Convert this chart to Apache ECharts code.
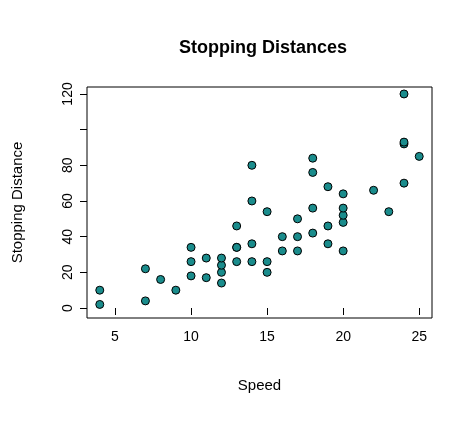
<!DOCTYPE html>
<html><head><meta charset="utf-8">
<script src="https://cdn.jsdelivr.net/npm/echarts@6/dist/echarts.min.js"></script>
<style>html,body{margin:0;padding:0;background:#fff}#c{width:474px;height:421px}</style>
</head><body><div id="c"></div>
<script>
const speed=[4,4,7,7,8,9,10,10,10,11,11,12,12,12,12,13,13,13,13,14,14,14,14,15,15,15,16,16,17,17,17,18,18,18,18,19,19,19,20,20,20,20,20,22,23,24,24,24,24,25];
const dist=[2,10,4,22,16,10,18,26,34,17,28,14,20,24,28,26,34,34,46,26,36,60,80,20,26,54,32,40,32,40,50,42,56,76,84,36,46,68,32,48,52,56,64,66,54,70,92,93,120,85];
const xTicks=[5,10,15,20,25];
const yTicks=[0,20,40,60,80,100,120];
const yLabels=[0,20,40,60,80,120];
const data=speed.map((s,i)=>[s,dist[i]]);
const ch=echarts.init(document.getElementById('c'));
const font='Liberation Sans, Arial, sans-serif';
ch.setOption({
  animation:false,
  title:{text:'Stopping Distances',left:258,top:34,textAlign:'center',textStyle:{fontSize:18,fontWeight:'bold',color:'#000',fontFamily:font}},
  grid:{left:87,right:42,top:87,bottom:103,show:true,borderColor:'#000',borderWidth:1,backgroundColor:'transparent'},
  xAxis:{type:'value',min:3.16,max:25.84,splitLine:{show:false},axisLine:{show:false},
    axisTick:{show:true,length:7,customValues:xTicks,lineStyle:{color:'#000'}},
    axisLabel:{customValues:xTicks,color:'#000',fontSize:14,margin:12,fontFamily:font},
    name:'Speed',nameLocation:'middle',nameGap:60,nameTextStyle:{fontSize:15,color:'#000',fontFamily:font}},
  yAxis:{type:'value',min:-5.6,max:123.9,splitLine:{show:false},axisLine:{show:false},
    axisTick:{show:true,length:7,customValues:yTicks,lineStyle:{color:'#000'}},
    axisLabel:{customValues:yLabels,rotate:90,color:'#000',fontSize:14,margin:12,fontFamily:font},
    name:'Stopping Distance',nameLocation:'middle',nameGap:62,nameTextStyle:{fontSize:15,color:'#000',fontFamily:font}},
  series:[{type:'scatter',data:data,symbolSize:8,itemStyle:{color:'#1a8c8c',borderColor:'#000',borderWidth:1,opacity:1}}]
});
</script></body></html>
